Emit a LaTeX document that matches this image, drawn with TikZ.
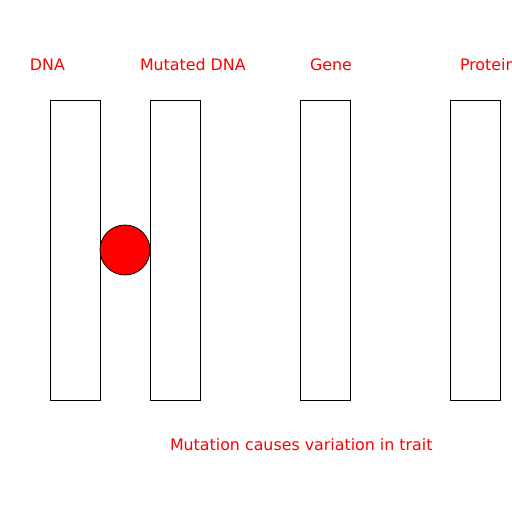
\documentclass[tikz,border=0pt]{standalone}
\usepackage{fontspec}
\setmainfont{DejaVu Sans}
\begin{document}
\begin{tikzpicture}[x=1pt,y=-1pt,
  strand/.style={draw=black,line width=0.8pt},
  lbl/.style={text=red,font=\fontsize{15.85}{18}\selectfont,anchor=base west,inner sep=0pt,outer sep=0pt},
  mut/.style={circle,draw=black,fill=red,line width=0.8pt,minimum size=50pt,inner sep=0pt}]
\useasboundingbox (0,0) rectangle (512,512);
\node[strand,rectangle,minimum width=50pt,minimum height=300pt,inner sep=0pt] (dna) at (75,250) {};
\node[strand,rectangle,minimum width=50pt,minimum height=300pt,inner sep=0pt] (mdna) at (175,250) {};
\node[strand,rectangle,minimum width=50pt,minimum height=300pt,inner sep=0pt] (gene) at (325,250) {};
\node[strand,rectangle,minimum width=50pt,minimum height=300pt,inner sep=0pt] (prot) at (475,250) {};
\node[mut] (m) at (125,250) {};
\node[lbl] (tdna) at (30,70.5) {DNA};
\node[lbl] (tmdna) at (140,70.5) {Mutated DNA};
\node[lbl] (tgene) at (310,70.5) {Gene};
\node[lbl] (tprot) at (460,70.5) {Protein};
\node[lbl] (tmut) at (170,450.5) {Mutation causes variation in trait};
\end{tikzpicture}
\end{document}
